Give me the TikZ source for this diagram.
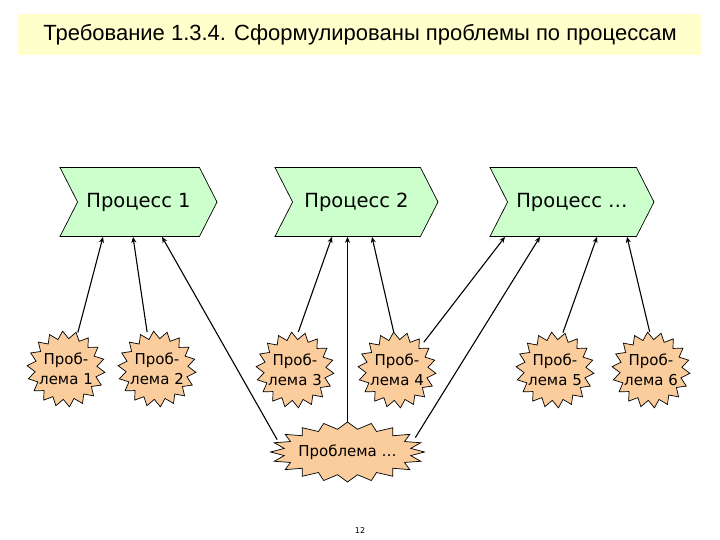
\documentclass[tikz,border=0pt]{standalone}
\usepackage{fontspec}
\setmainfont{DejaVu Sans}
\newfontfamily\titlefont{Liberation Sans}
\usetikzlibrary{shapes.geometric,shapes.symbols,arrows.meta}
\definecolor{titlebg}{RGB}{255,255,204}
\definecolor{procfill}{RGB}{204,255,204}
\definecolor{probfill}{RGB}{251,204,156}
\tikzset{
  proc/.style={signal, signal from=west, signal to=east, signal pointer angle=126,
    draw=black, line width=0.7pt, fill=procfill, minimum width=157pt, minimum height=69pt,
    inner sep=0pt, font=\fontsize{19.5}{23}\selectfont},
  burst/.style={draw=black, line width=0.7pt, fill=probfill},
  prob/.style={ellipse, minimum width=78pt, minimum height=76pt, inner sep=0pt, align=center,
    font=\fontsize{15}{20}\selectfont},
  conn/.style={line width=1.1pt, -{Stealth[length=6pt,width=5pt]}}
}
% small burst: centre x, centre y
\newcommand\smallburst[2]{%
  \draw[burst] plot[samples at={0,...,35}]
    ({#1+(mod(\x,2)==0 ? 39 : 31)*cos(\x*10+5)}, {#2+(mod(\x,2)==0 ? 38 : 30.5)*sin(\x*10+5)}) -- cycle;}
\begin{document}
\begin{tikzpicture}[x=1pt,y=-1pt]
\useasboundingbox (0,0) rectangle (720,540);
\fill[titlebg] (18,14) rectangle (701,55);
\node[font=\titlefont\fontsize{22}{26}\selectfont] (title) at (360,35) {Требование 1.3.4. Сформулированы проблемы по процессам};

\node[proc] (p1) at (138.5,202) {Процесс 1};
\node[proc, minimum width=163pt] (p2) at (356.5,202) {Процесс 2};
\node[proc, minimum width=164pt] (p3) at (572,202) {Процесс …};

\smallburst{66}{369}
\smallburst{157}{369}
\smallburst{295}{370}
\smallburst{397}{370}
\smallburst{555}{370}
\smallburst{651}{370}
\node[prob] (s1) at (66,369) {Проб-\\лема 1};
\node[prob] (s2) at (157,369) {Проб-\\лема 2};
\node[prob] (s3) at (295,370) {Проб-\\лема 3};
\node[prob] (s4) at (397,370) {Проб-\\лема 4};
\node[prob] (s5) at (555,370) {Проб-\\лема 5};
\node[prob] (s6) at (651,370) {Проб-\\лема 6};

\draw[burst] plot[samples at={0,...,39}]
  ({347.5+(mod(\x,2)==0 ? 77 : 64)*cos(\x*9)}, {452+(mod(\x,2)==0 ? 30 : 23)*sin(\x*9)}) -- cycle;
\node[ellipse, minimum width=154pt, minimum height=60pt, inner sep=0pt,
  font=\fontsize{15}{20}\selectfont] (pm) at (347.5,452) {Проблема …};

\draw[conn] (s1.72) -- ([xshift=-35.5pt]p1.south);
\draw[conn] (s2.105) -- ([xshift=-5.5pt]p1.south);
\draw[conn] (pm.170) -- ([xshift=23.5pt]p1.south);
\draw[conn] (s3.85) -- ([xshift=-24.5pt]p2.south);
\draw[conn, line width=1pt] (pm.north) -- (pm.north |- p2.south);
\draw[conn] (s4.95) -- ([xshift=15.5pt]p2.south);
\draw[conn] (s4.46) -- ([xshift=-67pt]p3.south);
\draw[conn] (pm.12) -- ([xshift=-32pt]p3.south);
\draw[conn] (s5.78) -- ([xshift=25pt]p3.south);
\draw[conn] (s6.92) -- ([xshift=55pt]p3.south);

\node[font=\fontsize{8}{10}\selectfont] (pg) at (360,531) {12};
\end{tikzpicture}
\end{document}
